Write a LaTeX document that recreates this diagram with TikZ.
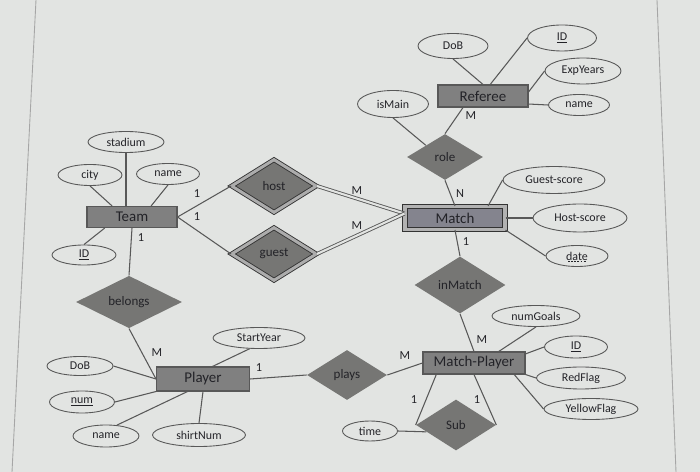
\documentclass[tikz,border=0pt]{standalone}
\usepackage{fontspec}
\setmainfont{Carlito}
\usetikzlibrary{shapes.geometric}
\definecolor{bgcol}{RGB}{226,228,226}
\definecolor{boxfill}{RGB}{128,128,128}
\definecolor{wkfill}{RGB}{132,132,142}
\definecolor{relfill}{RGB}{118,118,116}
\definecolor{edgecol}{RGB}{88,88,88}
\definecolor{inkcol}{RGB}{35,35,40}

\begin{document}
\begin{tikzpicture}[x=0.02cm,y=-0.02cm,
	every node/.style={text=inkcol},
	ent/.style={rectangle,draw=edgecol,fill=boxfill,line width=0.6pt,inner sep=0pt,font=\fontsize{8.5}{10}\selectfont},
	wkent/.style={ent,draw=black!80,fill=wkfill,double=gray!60,double distance=0.07cm},
	rel/.style={diamond,fill=relfill,inner sep=0pt,font=\fontsize{7.4}{9}\selectfont},
	wkrel/.style={rel,draw=gray!40!black,line width=0.5pt,double=gray!65,double distance=0.06cm},
	attr/.style={ellipse,draw=edgecol,line width=0.5pt,inner sep=0pt,font=\fontsize{6.8}{8}\selectfont},
	ln/.style={draw=edgecol,line width=0.6pt},
	dbl/.style={draw=edgecol,line width=0.5pt,double=bgcol,double distance=1.2pt},
	card/.style={font=\fontsize{7}{8}\selectfont,inner sep=0pt},
	frameline/.style={draw=gray!70,line width=0.5pt}]
	\fill[bgcol] (0,0) rectangle (700,472);
	\useasboundingbox (0,0) rectangle (700,472);
	\draw[frameline] (36,0) -- (12,472);
	\draw[frameline] (657,0) -- (676,472);

	\node[ent,minimum width=1.8cm,minimum height=0.42cm] (team) at (132,217) {Team};
	\node[ent,minimum width=1.8cm,minimum height=0.44cm] (referee) at (483,96) {Referee};
	\node[wkent,minimum width=2.0cm,minimum height=0.46cm] (match) at (455,218) {Match};
	\node[ent,minimum width=1.86cm,minimum height=0.48cm] (player) at (203,379) {Player};
	\node[ent,minimum width=2.04cm,minimum height=0.44cm] (mp) at (474,363) {Match-Player};

	\node[wkrel,minimum width=1.7cm,minimum height=1.06cm] (host) at (274,186) {host};
	\node[wkrel,minimum width=1.7cm,minimum height=1.06cm] (guest) at (274,254) {guest};
	\node[rel,minimum width=1.52cm,minimum height=0.92cm] (role) at (445,157) {role};
	\node[rel,minimum width=1.82cm,minimum height=1.14cm] (inmatch) at (460,285) {inMatch};
	\node[rel,minimum width=2.12cm,minimum height=1.04cm] (belongs) at (129,302) {belongs};
	\node[rel,minimum width=1.6cm,minimum height=1.0cm] (plays) at (347,375) {plays};
	\node[rel,minimum width=1.6cm,minimum height=1.02cm] (sub) at (456,425) {Sub};

	\node[attr,minimum width=1.52cm,minimum height=0.42cm] (stadium) at (126,142) {stadium};
	\node[attr,minimum width=1.28cm,minimum height=0.42cm] (city) at (90,175) {city};
	\node[attr,minimum width=1.26cm,minimum height=0.42cm] (tname) at (168,174) {name};
	\node[attr,minimum width=1.28cm,minimum height=0.40cm] (tid) at (84,255) {\underline{ID}};
	\node[attr,minimum width=1.4cm,minimum height=0.5cm] (rdob) at (453,46) {DoB};
	\node[attr,minimum width=1.38cm,minimum height=0.52cm] (rid) at (562,38) {\underline{ID}};
	\node[attr,minimum width=1.52cm,minimum height=0.52cm] (expyears) at (583,71) {ExpYears};
	\node[attr,minimum width=1.22cm,minimum height=0.42cm] (rname) at (579,105) {name};
	\node[attr,minimum width=1.42cm,minimum height=0.54cm] (ismain) at (393,104) {isMain};
	\node[attr,minimum width=2.04cm,minimum height=0.54cm] (gscore) at (554,180) {Guest-score};
	\node[attr,minimum width=1.88cm,minimum height=0.56cm] (hscore) at (580,218) {Host-score};
	\node[attr,minimum width=1.24cm,minimum height=0.42cm] (date) at (577,256) {date};
	\node[attr,minimum width=1.76cm,minimum height=0.42cm] (numgoals) at (536,316) {numGoals};
	\node[attr,minimum width=1.26cm,minimum height=0.44cm] (mpid) at (576,347) {\underline{ID}};
	\node[attr,minimum width=1.78cm,minimum height=0.44cm] (redflag) at (581,378) {RedFlag};
	\node[attr,minimum width=1.88cm,minimum height=0.42cm] (yellowflag) at (591,409) {YellowFlag};
	\node[attr,minimum width=1.1cm,minimum height=0.40cm] (time) at (370,431) {time};
	\node[attr,minimum width=1.84cm,minimum height=0.42cm] (startyear) at (259,338) {StartYear};
	\node[attr,minimum width=1.32cm,minimum height=0.38cm] (pdob) at (80,366) {DoB};
	\node[attr,minimum width=1.3cm,minimum height=0.44cm] (num) at (82,402) {\underline{num}};
	\node[attr,minimum width=1.32cm,minimum height=0.44cm] (pname) at (106,436) {name};
	\node[attr,minimum width=1.86cm,minimum height=0.46cm] (shirtnum) at (199,435) {shirtNum};
	\draw[inkcol,line width=0.4pt,dash pattern=on 1pt off 0.8pt] ([shift={(-9,5)}]date.center) -- ([shift={(9,5)}]date.center);

	\draw[ln] (stadium.south) -- (stadium.south |- team.north);
	\draw[ln] (city.south) -- (team.151);
	\draw[ln] (tname.south) -- (team.30);
	\draw[ln] (tid.north) -- (team.202);
	\draw[ln] (team.south) -- (belongs.north);
	\draw[ln] (team.east) -- (host.west);
	\draw[ln] (team.east) -- (guest.west);
	\draw[dbl] (host.east) -- (match.175);
	\draw[dbl] (guest.east) -- (match.175);

	\draw[ln] (rdob.south) -- (referee.north);
	\draw[ln] (rid.west) -- (referee.58);
	\draw[ln] (expyears.west) -- (referee.5);
	\draw[ln] (rname.west) -- (referee.-10);
	\draw[ln] (referee.210) -- (role.north);
	\draw[ln] (ismain.south) -- (role.north west);
	\draw[ln] (role.south) -- (match.north);

	\draw[ln] (match.20) -- (gscore.west);
	\draw[ln] (match.east) -- (hscore.west);
	\draw[ln] (match.south east) -- (date.west);
	\draw[ln] (match.south) -- (inmatch.north);
	\draw[ln] (inmatch.south) -- (mp.north);

	\draw[ln] (mp.25) -- (numgoals.south);
	\draw[ln] (mp.10) -- (mpid.west);
	\draw[ln] (mp.south east) -- (redflag.west);
	\draw[ln] (mp.-16) -- (yellowflag.west);
	\draw[ln] (plays.east) -- (mp.west);
	\draw[ln] (mp.197) -- (sub.west);
	\draw[ln] (mp.south) -- (sub.east);
	\draw[ln] (time.east) -- (sub.193);

	\draw[ln] (player.east) -- (plays.west);
	\draw[ln] (belongs.south) -- (player.west);
	\draw[ln] (pdob.east) -- (player.west);
	\draw[ln] (num.east) -- (player.south west);
	\draw[ln] (pname.45) -- (player.219);
	\draw[ln] (shirtnum.north) -- (player.south);
	\draw[ln] (startyear.229) -- (player.53);

	\node[card] (c1) at (141,238) {1};
	\node[card] (c2) at (197,194) {1};
	\node[card] (c3) at (197,217) {1};
	\node[card] (c4) at (357,191) {M};
	\node[card] (c5) at (357,226) {M};
	\node[card] (c6) at (471,116) {M};
	\node[card] (c7) at (460,194) {N};
	\node[card] (c8) at (466,242) {1};
	\node[card] (c9) at (482,340) {M};
	\node[card] (c10) at (405,356) {M};
	\node[card] (c11) at (259,368) {1};
	\node[card] (c12) at (157,353) {M};
	\node[card] (c13) at (414,400) {1};
	\node[card] (c14) at (477,400) {1};
\end{tikzpicture}
\end{document}
